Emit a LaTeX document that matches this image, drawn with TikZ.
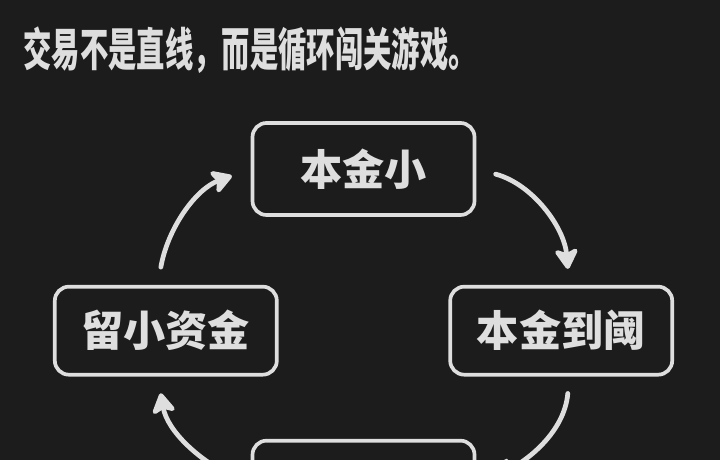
\documentclass[tikz,border=0pt]{standalone}
\usepackage{fontspec}
\newfontfamily\cjk{Noto Sans CJK SC}
\usepackage{tikz}
\usetikzlibrary{positioning, arrows.meta}
\usepackage{xcolor}
\definecolor{bgdark}{HTML}{1C1C1C}
\definecolor{chalk}{HTML}{DEDEDE}

\begin{document}
\begin{tikzpicture}[
        box/.style={rectangle, draw=chalk, line width=1.05pt, rounded corners=4pt,
                    minimum width=2.22cm, minimum height=0.88cm, align=center,
                    text=chalk, font=\cjk\bfseries\fontsize{12}{15}\selectfont},
        title/.style={anchor=west, text=chalk, inner sep=0pt, xscale=0.62,
                      font=\cjk\bfseries\fontsize{13}{16}\selectfont},
        arrow/.style={-{Stealth[length=0.24cm, width=0.28cm, inset=0.06cm, round]},
                      draw=chalk, line width=1.35pt, line cap=round}
    ]

    %% background and page size
    \fill[bgdark] (0,0) rectangle (7.2,4.6);
    \clip (0,0) rectangle (7.2,4.6);

    %% heading
    \node[title] (heading) at (0.23,4.095) {交易不是直线，而是循环闯关游戏。};

    %% the loop
    \node[box, minimum height=0.92cm] (small) at (3.635,2.91) {本金小};
    \node[box, below right=0.68cm and -0.28cm of small] (reach) {本金到阈};
    \node[box, below left=0.68cm and -0.28cm of small] (keep) {留小资金};
    \node[box, below=2.22cm of small] (next) {};

    \draw[arrow, shorten <=0.18cm, shorten >=0.2cm]
        (keep.100) to[out=80, in=200] (small.west);
    \draw[arrow, shorten <=0.2cm, shorten >=0.16cm]
        (small.east) to[out=-15, in=95] (reach.80);
    \draw[arrow, shorten <=0.17cm, shorten >=0.2cm]
        (reach.-80) to[out=-95, in=25] (next.east);
    \draw[arrow, shorten <=0.2cm, shorten >=0.17cm]
        (next.west) to[out=155, in=-80] (keep.-100);

\end{tikzpicture}
\end{document}
